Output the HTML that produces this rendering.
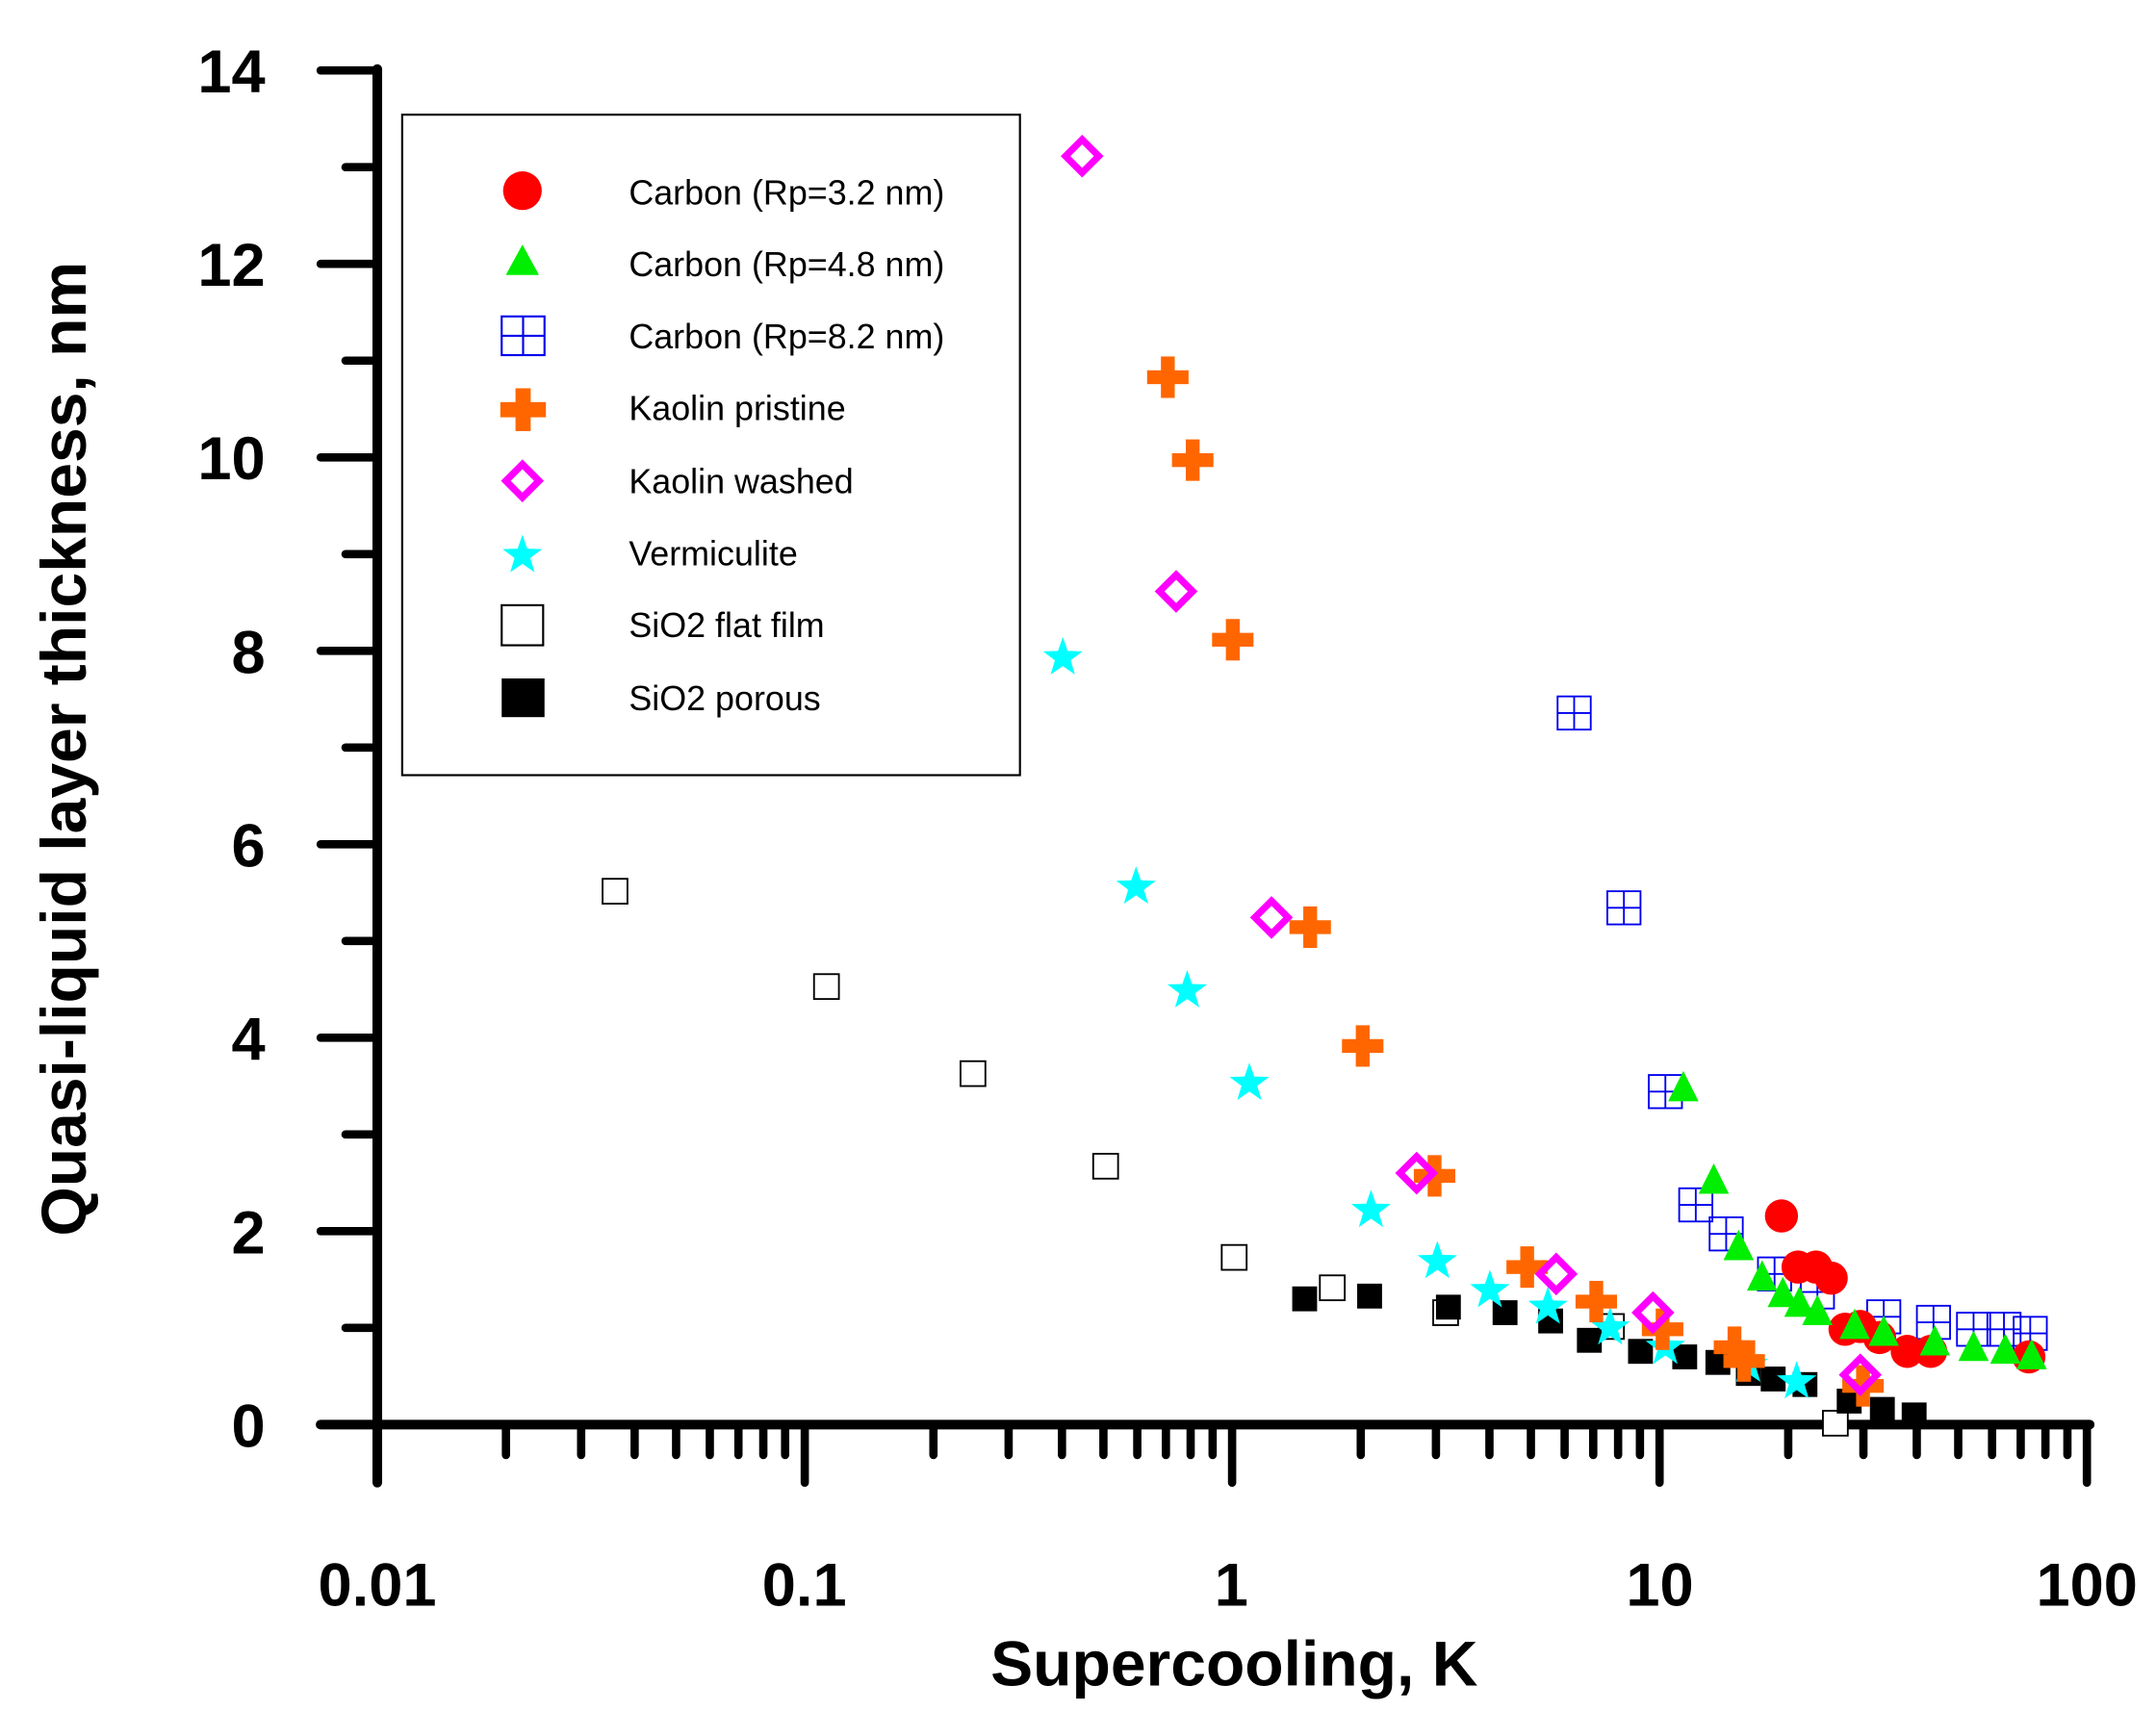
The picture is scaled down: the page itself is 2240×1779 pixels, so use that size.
<!DOCTYPE html>
<html><head><meta charset="utf-8"><style>html,body{margin:0;padding:0;background:#fff}svg{display:block}</style></head>
<body>
<svg xmlns="http://www.w3.org/2000/svg" xmlns:xlink="http://www.w3.org/1999/xlink" width="2240" height="1779" viewBox="0 0 1560 1239" preserveAspectRatio="none">
<defs>
<circle id="c" cx="0" cy="0" r="12" fill="#ff0000"/>
<polygon id="t" points="0,-13 -11,9 11,9" fill="#00ee00"/>
<g id="g" stroke="#0000ee" stroke-width="1.3" fill="none"><rect x="-12" y="-12" width="24" height="24"/><line x1="0" y1="-12" x2="0" y2="12"/><line x1="-12" y1="0" x2="12" y2="0"/></g>
<g id="p" fill="#ff6600"><rect x="-15" y="-5" width="30" height="10"/><rect x="-5" y="-15" width="10" height="30"/></g>
<polygon id="d" points="0,-12 12,0 0,12 -12,0" fill="none" stroke="#ff00ff" stroke-width="5"/>
<polygon id="s" points="0,-15 3.5,-4.9 14.3,-4.6 5.7,1.9 8.8,12.1 0,6 -8.8,12.1 -5.7,1.9 -14.3,-4.6 -3.5,-4.9" fill="#00ffff"/>
<rect id="o" x="-9" y="-9" width="18" height="18" fill="#fff" stroke="#000" stroke-width="1.3"/>
<rect id="f" x="-9" y="-9" width="18" height="18" fill="#000"/>
</defs>
<rect width="1560" height="1239" fill="#fff"/>
<g stroke="#000" stroke-width="7" stroke-linecap="round" fill="none">
<line x1="273" y1="50" x2="273" y2="1073"/>
<line x1="232" y1="1031" x2="1512" y2="1031"/>
</g>
<g stroke="#000" stroke-width="6" stroke-linecap="round">
<line x1="232" y1="1031" x2="273" y2="1031"/><line x1="250" y1="961" x2="273" y2="961"/><line x1="232" y1="891" x2="273" y2="891"/><line x1="250" y1="821" x2="273" y2="821"/><line x1="232" y1="751" x2="273" y2="751"/><line x1="250" y1="681" x2="273" y2="681"/><line x1="232" y1="611" x2="273" y2="611"/><line x1="250" y1="541" x2="273" y2="541"/><line x1="232" y1="471" x2="273" y2="471"/><line x1="250" y1="401" x2="273" y2="401"/><line x1="232" y1="331" x2="273" y2="331"/><line x1="250" y1="261" x2="273" y2="261"/><line x1="232" y1="191" x2="273" y2="191"/><line x1="250" y1="121" x2="273" y2="121"/><line x1="232" y1="51" x2="273" y2="51"/>
<line x1="582.3" y1="1031" x2="582.3" y2="1073"/><line x1="891.5" y1="1031" x2="891.5" y2="1073"/><line x1="1200.8" y1="1031" x2="1200.8" y2="1073"/><line x1="1510" y1="1031" x2="1510" y2="1073"/>
<path d="M366.1 1031v22M420.5 1031v22M459.2 1031v22M489.2 1031v22M513.6 1031v22M534.3 1031v22M552.3 1031v22M568.1 1031v22
M675.4 1031v22M729.8 1031v22M768.4 1031v22M798.4 1031v22M822.9 1031v22M843.6 1031v22M861.5 1031v22M877.4 1031v22
M984.6 1031v22M1039 1031v22M1077.7 1031v22M1107.7 1031v22M1132.1 1031v22M1152.8 1031v22M1170.8 1031v22M1186.6 1031v22
M1293.9 1031v22M1348.3 1031v22M1386.9 1031v22M1416.9 1031v22M1441.4 1031v22M1462.1 1031v22M1480 1031v22M1495.9 1031v22" fill="none"/>
</g>
<g font-family="Liberation Sans, sans-serif" font-weight="bold" font-size="44" fill="#000">
<g text-anchor="end">
<text x="192" y="1047">0</text><text x="192" y="907">2</text><text x="192" y="767">4</text><text x="192" y="627">6</text><text x="192" y="487">8</text><text x="192" y="347">10</text><text x="192" y="207">12</text><text x="192" y="67">14</text>
</g>
<g text-anchor="middle">
<text x="273" y="1162">0.01</text><text x="582" y="1162">0.1</text><text x="891" y="1162">1</text><text x="1201" y="1162">10</text><text x="1510" y="1162">100</text>
<text x="893" y="1220" font-size="46">Supercooling, K</text>
<text transform="translate(62,542) rotate(-90)" font-size="46">Quasi-liquid layer thickness, nm</text>
</g>
</g>
<rect x="291" y="83" width="447" height="478" fill="#fff" stroke="#000" stroke-width="1.5"/>
<g font-family="Liberation Sans, sans-serif" font-size="25" fill="#000">
<text x="455" y="148">Carbon (Rp=3.2 nm)</text>
<text x="455" y="200">Carbon (Rp=4.8 nm)</text>
<text x="455" y="252">Carbon (Rp=8.2 nm)</text>
<text x="455" y="304">Kaolin pristine</text>
<text x="455" y="357">Kaolin washed</text>
<text x="455" y="409">Vermiculite</text>
<text x="455" y="461">SiO2 flat film</text>
<text x="455" y="514">SiO2 porous</text>
</g>
<circle cx="378" cy="138" r="14" fill="#ff0000"/>
<polygon points="378,177 366,199 390,199" fill="#00ee00"/>
<g stroke="#0000ee" stroke-width="1.5" fill="none"><rect x="363" y="229" width="31" height="28"/><line x1="378.5" y1="229" x2="378.5" y2="257"/><line x1="363" y1="243" x2="394" y2="243"/></g>
<g fill="#ff6600"><rect x="362" y="291" width="33" height="11"/><rect x="373" y="281" width="11" height="31"/></g>
<polygon points="378,336 390,348 378,360 366,348" fill="none" stroke="#ff00ff" stroke-width="5"/>
<use xlink:href="#s" href="#s" x="378" y="402"/>
<rect x="363" y="438" width="30" height="29" fill="#fff" stroke="#000" stroke-width="1.5"/>
<rect x="363" y="491" width="31" height="28" fill="#000"/>
<g>
<use href="#o" x="1046" y="950"/><use href="#o" x="1166" y="960"/><use href="#o" x="1328" y="1030"/><use href="#o" x="445" y="645"/><use href="#o" x="598" y="714"/><use href="#o" x="704" y="777"/><use href="#o" x="800" y="844"/><use href="#o" x="893" y="910"/><use href="#o" x="964" y="932"/>
<use href="#f" x="944" y="940"/><use href="#f" x="991" y="938"/><use href="#f" x="1048" y="946"/><use href="#f" x="1089" y="950"/><use href="#f" x="1122" y="956"/><use href="#f" x="1150" y="970"/><use href="#f" x="1187" y="978"/><use href="#f" x="1219" y="982"/><use href="#f" x="1243" y="986"/><use href="#f" x="1265" y="994"/><use href="#f" x="1283" y="998"/><use href="#f" x="1306" y="1002"/><use href="#f" x="1338" y="1014"/><use href="#f" x="1362" y="1020"/><use href="#f" x="1385" y="1024"/>
<use href="#s" x="769" y="476"/><use href="#s" x="822" y="642"/><use href="#s" x="859" y="717"/><use href="#s" x="904" y="784"/><use href="#s" x="992" y="876"/><use href="#s" x="1040" y="913"/><use href="#s" x="1078" y="934"/><use href="#s" x="1120" y="946"/><use href="#s" x="1165" y="961"/><use href="#s" x="1205" y="975"/><use href="#s" x="1265" y="988"/><use href="#s" x="1300" y="1000"/>
<use href="#p" x="845" y="273"/><use href="#p" x="863" y="333"/><use href="#p" x="892" y="463"/><use href="#p" x="948" y="671"/><use href="#p" x="986" y="757"/><use href="#p" x="1038" y="851"/><use href="#p" x="1105" y="917"/><use href="#p" x="1155" y="942"/><use href="#p" x="1203" y="962"/><use href="#p" x="1255" y="975"/><use href="#p" x="1262" y="985"/><use href="#p" x="1348" y="1003"/>
<use href="#g" x="1139" y="516"/><use href="#g" x="1175" y="657"/><use href="#g" x="1205" y="790"/><use href="#g" x="1227" y="872"/><use href="#g" x="1249" y="893"/><use href="#g" x="1284" y="922"/><use href="#g" x="1315" y="935"/><use href="#g" x="1363" y="953"/><use href="#g" x="1399" y="957"/><use href="#g" x="1428" y="962"/><use href="#g" x="1450" y="962"/><use href="#g" x="1469" y="965"/>
<use href="#c" x="1289" y="880"/><use href="#c" x="1301" y="917"/><use href="#c" x="1314" y="917"/><use href="#c" x="1325" y="925"/><use href="#c" x="1335" y="962"/><use href="#c" x="1346" y="960"/><use href="#c" x="1360" y="968"/><use href="#c" x="1380" y="978"/><use href="#c" x="1397" y="978"/><use href="#c" x="1468" y="982"/>
<use href="#t" x="1218" y="788"/><use href="#t" x="1240" y="855"/><use href="#t" x="1258" y="903"/><use href="#t" x="1275" y="925"/><use href="#t" x="1290" y="937"/><use href="#t" x="1302" y="944"/><use href="#t" x="1315" y="950"/><use href="#t" x="1342" y="960"/><use href="#t" x="1363" y="965"/><use href="#t" x="1400" y="972"/><use href="#t" x="1428" y="976"/><use href="#t" x="1451" y="978"/><use href="#t" x="1470" y="982"/>
<use href="#d" x="783" y="113"/><use href="#d" x="851" y="428"/><use href="#d" x="920" y="664"/><use href="#d" x="1025" y="849"/><use href="#d" x="1126" y="922"/><use href="#d" x="1196" y="950"/><use href="#d" x="1346" y="995"/>
</g>
</svg>
</body></html>
